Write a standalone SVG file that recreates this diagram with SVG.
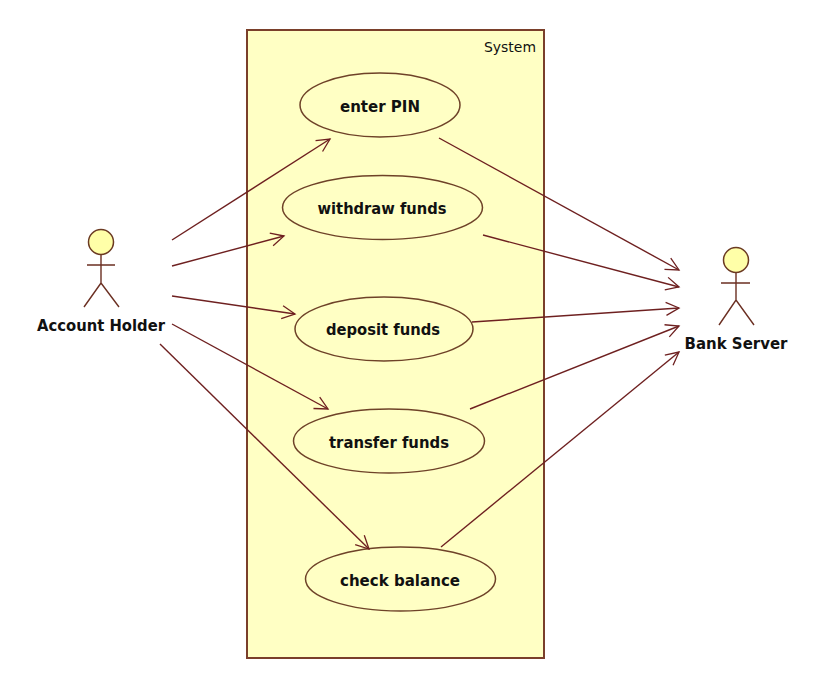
<svg xmlns="http://www.w3.org/2000/svg" width="825" height="689" viewBox="0 0 825 689">
<style>
.box{fill:#ffffc4;stroke:#7a3f2a;stroke-width:2}
.uc{fill:#ffffc4;stroke:#6e4228;stroke-width:1.5}
.stick{fill:none;stroke:#6b2f22;stroke-width:1.4}
.head{fill:#ffffa8;stroke:#6b3a22;stroke-width:1.5}
.con{fill:none;stroke:#6e2020;stroke-width:1.4;marker-end:url(#open)}
text{font-family:"DejaVu Sans",Verdana,sans-serif;fill:#111}
.lab{font-size:15.5px;font-weight:bold;text-anchor:middle}
</style>
<defs>
<marker id="open" viewBox="-18 -9 20 18" markerUnits="userSpaceOnUse" refX="0" refY="0" markerWidth="20" markerHeight="18" orient="auto" overflow="visible">
<path d="M-13,-6.5 L0,0 L-13,6.5" fill="none" stroke="#6e2020" stroke-width="1.3"/>
</marker>
</defs>
<rect width="825" height="689" fill="#fff"/>
<g id="system">
<rect class="box" x="247" y="30" width="297" height="628"/>
<text x="536" y="52" font-size="14.5" text-anchor="end" textLength="52" lengthAdjust="spacingAndGlyphs" fill="#333">System</text>
</g>
<g id="enter-pin"><ellipse class="uc" cx="380" cy="105" rx="80" ry="32"/><text class="lab" x="380" y="112" textLength="80" lengthAdjust="spacingAndGlyphs">enter PIN</text></g>
<g id="withdraw-funds"><ellipse class="uc" cx="382.500" cy="207.500" rx="100" ry="32"/><text class="lab" x="382" y="214" textLength="129" lengthAdjust="spacingAndGlyphs">withdraw funds</text></g>
<g id="deposit-funds"><ellipse class="uc" cx="384" cy="329" rx="89" ry="32"/><text class="lab" x="383" y="335" textLength="114" lengthAdjust="spacingAndGlyphs">deposit funds</text></g>
<g id="transfer-funds"><ellipse class="uc" cx="389" cy="441" rx="95.500" ry="32"/><text class="lab" x="389" y="448" textLength="120" lengthAdjust="spacingAndGlyphs">transfer funds</text></g>
<g id="check-balance"><ellipse class="uc" cx="400.500" cy="579" rx="95" ry="32"/><text class="lab" x="400" y="586" textLength="120" lengthAdjust="spacingAndGlyphs">check balance</text></g>
<g id="account-holder">
<circle class="head" cx="101" cy="242" r="12.500"/>
<path class="stick" d="M101,255V283M87,265H115M84,307L101,283L119,307"/>
<text class="lab" x="101" y="331" textLength="128" lengthAdjust="spacingAndGlyphs">Account Holder</text>
</g>
<g id="bank-server">
<circle class="head" cx="736" cy="260" r="12.500"/>
<path class="stick" d="M736,273V300M721,283H750M719,325L736,300L754,325"/>
<text class="lab" x="736" y="349" textLength="103" lengthAdjust="spacingAndGlyphs">Bank Server</text>
</g>
<g id="connectors">
<line class="con" x1="172" y1="240" x2="330" y2="139"/>
<line class="con" x1="172" y1="266" x2="284" y2="236"/>
<line class="con" x1="172" y1="296" x2="295" y2="314"/>
<line class="con" x1="172" y1="324" x2="328" y2="409"/>
<line class="con" x1="160" y1="344" x2="369" y2="549"/>
<line class="con" x1="439" y1="138" x2="679" y2="270"/>
<line class="con" x1="483" y1="235" x2="679" y2="287"/>
<line class="con" x1="472" y1="322" x2="679" y2="308"/>
<line class="con" x1="470" y1="409" x2="679" y2="326"/>
<line class="con" x1="441" y1="547" x2="679" y2="352"/>
</g>
</svg>
